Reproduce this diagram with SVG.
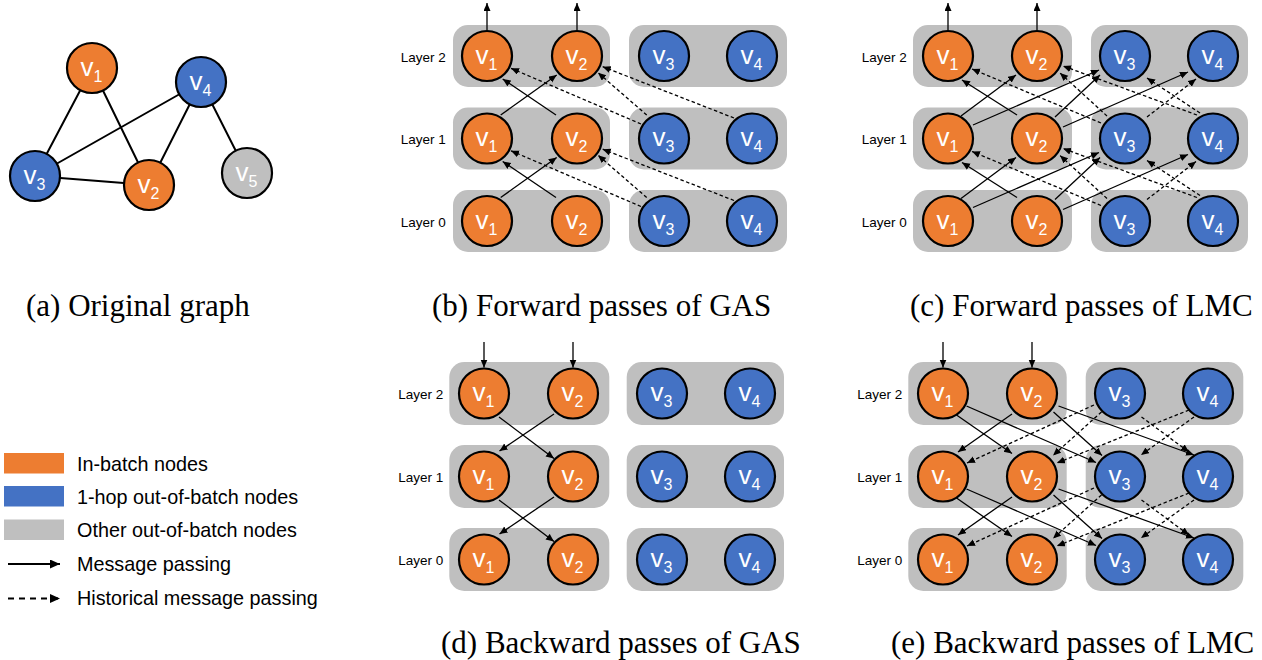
<svg xmlns="http://www.w3.org/2000/svg" width="1262" height="660" viewBox="0 0 1262 660">
<style>
.o{fill:#ED7D31;stroke:#000;stroke-width:2.2}
.b{fill:#4472C4;stroke:#000;stroke-width:2.2}
.g{fill:#BFBFBF;stroke:#000;stroke-width:2.2}
.box{fill:#BFBFBF}
.nl{font-family:"Liberation Sans",Arial,sans-serif;font-size:26px;fill:#fff}
.sb{font-size:16px}
.lay{font-family:"Liberation Sans",Arial,sans-serif;font-size:13.5px;fill:#000}
.cap{font-family:"Liberation Serif","Times New Roman",serif;font-size:31px;fill:#000}
.leg{font-family:"Liberation Sans",Arial,sans-serif;font-size:19.8px;fill:#000}
.e{stroke:#000;stroke-width:1.3;fill:none;marker-end:url(#ah)}
.d{stroke-dasharray:3.5 2.5}
.ge{stroke:#000;stroke-width:2;fill:none}
</style>
<defs>
<marker id="ah" markerUnits="userSpaceOnUse" markerWidth="9" markerHeight="8" refX="8" refY="3.5" orient="auto"><path d="M0,0 L8,3.5 L0,7 z" fill="#000"/></marker>
<marker id="ahl" markerUnits="userSpaceOnUse" markerWidth="11" markerHeight="10" refX="10" refY="4.5" orient="auto"><path d="M0,0 L10,4.5 L0,9 z" fill="#000"/></marker>
</defs>
<rect width="1262" height="660" fill="#fff"/>

<!-- ===== Panel (a) ===== -->
<g id="a-edges">
<path class="ge" d="M92,68 L35,176 M92,68 L149,185 M201,82 L35,176 M35,176 L149,185 M201,82 L149,185 M201,82 L247,173"/>
</g>
<g id="a-v1"><circle class="o" cx="92" cy="68" r="25"/><text class="nl" x="80.5" y="75.5">v<tspan class="sb" dy="6">1</tspan></text></g>
<g id="a-v4"><circle class="b" cx="201" cy="82" r="25"/><text class="nl" x="189.5" y="89.5">v<tspan class="sb" dy="6">4</tspan></text></g>
<g id="a-v3"><circle class="b" cx="35" cy="176" r="25"/><text class="nl" x="23.5" y="183.5">v<tspan class="sb" dy="6">3</tspan></text></g>
<g id="a-v2"><circle class="o" cx="149" cy="185" r="25"/><text class="nl" x="137.5" y="192.5">v<tspan class="sb" dy="6">2</tspan></text></g>
<g id="a-v5"><circle class="g" cx="247" cy="173" r="25"/><text class="nl" x="235.5" y="180.5">v<tspan class="sb" dy="6">5</tspan></text></g>
<text class="cap" x="26" y="316">(a) Original graph</text>

<!-- ===== Legend ===== -->
<g id="legend">
<rect x="4" y="453" width="60" height="20.5" fill="#ED7D31"/>
<rect x="4" y="486" width="60" height="20.5" fill="#4472C4"/>
<rect x="4" y="519.5" width="60" height="20.5" fill="#BFBFBF"/>
<path d="M8,564 L60,564" stroke="#000" stroke-width="2" marker-end="url(#ahl)"/>
<path d="M8,598.5 L60,598.5" stroke="#000" stroke-width="2" stroke-dasharray="6 5" marker-end="url(#ahl)"/>
<text class="leg" x="77" y="470.5">In-batch nodes</text>
<text class="leg" x="77" y="504">1-hop out-of-batch nodes</text>
<text class="leg" x="77" y="537">Other out-of-batch nodes</text>
<text class="leg" x="77" y="570.5">Message passing</text>
<text class="leg" x="77" y="605">Historical message passing</text>
</g>

<!-- ===== Panel (b) ===== -->
<g id="b-boxes">
<rect class="box" x="453" y="25" width="157" height="62" rx="15"/>
<rect class="box" x="629" y="25" width="158" height="62" rx="15"/>
<rect class="box" x="453" y="107.5" width="157" height="62" rx="15"/>
<rect class="box" x="629" y="107.5" width="158" height="62" rx="15"/>
<rect class="box" x="453" y="190" width="157" height="62" rx="15"/>
<rect class="box" x="629" y="190" width="158" height="62" rx="15"/>
</g>
<text class="lay" x="400.7" y="61.5">Layer 2</text>
<text class="lay" x="400.7" y="144">Layer 1</text>
<text class="lay" x="400.7" y="226.5">Layer 0</text>
<g id="b-L2-v1"><circle class="o" cx="487" cy="56" r="25"/><text class="nl" x="475.5" y="63.5">v<tspan class="sb" dy="6">1</tspan></text></g>
<g id="b-L2-v2"><circle class="o" cx="577" cy="56" r="25"/><text class="nl" x="565.5" y="63.5">v<tspan class="sb" dy="6">2</tspan></text></g>
<g id="b-L2-v3"><circle class="b" cx="664" cy="56" r="25"/><text class="nl" x="652.5" y="63.5">v<tspan class="sb" dy="6">3</tspan></text></g>
<g id="b-L2-v4"><circle class="b" cx="752" cy="56" r="25"/><text class="nl" x="740.5" y="63.5">v<tspan class="sb" dy="6">4</tspan></text></g>
<g id="b-L1-v1"><circle class="o" cx="487" cy="138.5" r="25"/><text class="nl" x="475.5" y="146">v<tspan class="sb" dy="6">1</tspan></text></g>
<g id="b-L1-v2"><circle class="o" cx="577" cy="138.5" r="25"/><text class="nl" x="565.5" y="146">v<tspan class="sb" dy="6">2</tspan></text></g>
<g id="b-L1-v3"><circle class="b" cx="664" cy="138.5" r="25"/><text class="nl" x="652.5" y="146">v<tspan class="sb" dy="6">3</tspan></text></g>
<g id="b-L1-v4"><circle class="b" cx="752" cy="138.5" r="25"/><text class="nl" x="740.5" y="146">v<tspan class="sb" dy="6">4</tspan></text></g>
<g id="b-L0-v1"><circle class="o" cx="487" cy="221" r="25"/><text class="nl" x="475.5" y="228.5">v<tspan class="sb" dy="6">1</tspan></text></g>
<g id="b-L0-v2"><circle class="o" cx="577" cy="221" r="25"/><text class="nl" x="565.5" y="228.5">v<tspan class="sb" dy="6">2</tspan></text></g>
<g id="b-L0-v3"><circle class="b" cx="664" cy="221" r="25"/><text class="nl" x="652.5" y="228.5">v<tspan class="sb" dy="6">3</tspan></text></g>
<g id="b-L0-v4"><circle class="b" cx="752" cy="221" r="25"/><text class="nl" x="740.5" y="228.5">v<tspan class="sb" dy="6">4</tspan></text></g>
<text class="cap" x="432" y="316">(b) Forward passes of GAS</text>

<!-- ===== Panel (c) ===== -->
<g id="c-boxes">
<rect class="box" x="913" y="25" width="159" height="62" rx="15"/>
<rect class="box" x="1091" y="25" width="157" height="62" rx="15"/>
<rect class="box" x="913" y="107.5" width="159" height="62" rx="15"/>
<rect class="box" x="1091" y="107.5" width="157" height="62" rx="15"/>
<rect class="box" x="913" y="190" width="159" height="62" rx="15"/>
<rect class="box" x="1091" y="190" width="157" height="62" rx="15"/>
</g>
<text class="lay" x="861.7" y="61.5">Layer 2</text>
<text class="lay" x="861.7" y="144">Layer 1</text>
<text class="lay" x="861.7" y="226.5">Layer 0</text>
<g id="c-L2-v1"><circle class="o" cx="948" cy="56" r="25"/><text class="nl" x="936.5" y="63.5">v<tspan class="sb" dy="6">1</tspan></text></g>
<g id="c-L2-v2"><circle class="o" cx="1037" cy="56" r="25"/><text class="nl" x="1025.5" y="63.5">v<tspan class="sb" dy="6">2</tspan></text></g>
<g id="c-L2-v3"><circle class="b" cx="1125" cy="56" r="25"/><text class="nl" x="1113.5" y="63.5">v<tspan class="sb" dy="6">3</tspan></text></g>
<g id="c-L2-v4"><circle class="b" cx="1213" cy="56" r="25"/><text class="nl" x="1201.5" y="63.5">v<tspan class="sb" dy="6">4</tspan></text></g>
<g id="c-L1-v1"><circle class="o" cx="948" cy="138.5" r="25"/><text class="nl" x="936.5" y="146">v<tspan class="sb" dy="6">1</tspan></text></g>
<g id="c-L1-v2"><circle class="o" cx="1037" cy="138.5" r="25"/><text class="nl" x="1025.5" y="146">v<tspan class="sb" dy="6">2</tspan></text></g>
<g id="c-L1-v3"><circle class="b" cx="1125" cy="138.5" r="25"/><text class="nl" x="1113.5" y="146">v<tspan class="sb" dy="6">3</tspan></text></g>
<g id="c-L1-v4"><circle class="b" cx="1213" cy="138.5" r="25"/><text class="nl" x="1201.5" y="146">v<tspan class="sb" dy="6">4</tspan></text></g>
<g id="c-L0-v1"><circle class="o" cx="948" cy="221" r="25"/><text class="nl" x="936.5" y="228.5">v<tspan class="sb" dy="6">1</tspan></text></g>
<g id="c-L0-v2"><circle class="o" cx="1037" cy="221" r="25"/><text class="nl" x="1025.5" y="228.5">v<tspan class="sb" dy="6">2</tspan></text></g>
<g id="c-L0-v3"><circle class="b" cx="1125" cy="221" r="25"/><text class="nl" x="1113.5" y="228.5">v<tspan class="sb" dy="6">3</tspan></text></g>
<g id="c-L0-v4"><circle class="b" cx="1213" cy="221" r="25"/><text class="nl" x="1201.5" y="228.5">v<tspan class="sb" dy="6">4</tspan></text></g>
<text class="cap" x="910" y="316">(c) Forward passes of LMC</text>

<!-- ===== Panel (d) ===== -->
<g id="d-boxes">
<rect class="box" x="449.3" y="362" width="160" height="63" rx="15"/>
<rect class="box" x="626.7" y="362" width="157.3" height="63" rx="15"/>
<rect class="box" x="449.3" y="445" width="160" height="63" rx="15"/>
<rect class="box" x="626.7" y="445" width="157.3" height="63" rx="15"/>
<rect class="box" x="449.3" y="528" width="160" height="63" rx="15"/>
<rect class="box" x="626.7" y="528" width="157.3" height="63" rx="15"/>
</g>
<text class="lay" x="398.3" y="399">Layer 2</text>
<text class="lay" x="398.3" y="482">Layer 1</text>
<text class="lay" x="398.3" y="565">Layer 0</text>
<g id="d-L2-v1"><circle class="o" cx="484" cy="393.5" r="25"/><text class="nl" x="472.5" y="401">v<tspan class="sb" dy="6">1</tspan></text></g>
<g id="d-L2-v2"><circle class="o" cx="573" cy="393.5" r="25"/><text class="nl" x="561.5" y="401">v<tspan class="sb" dy="6">2</tspan></text></g>
<g id="d-L2-v3"><circle class="b" cx="662" cy="393.5" r="25"/><text class="nl" x="650.5" y="401">v<tspan class="sb" dy="6">3</tspan></text></g>
<g id="d-L2-v4"><circle class="b" cx="750" cy="393.5" r="25"/><text class="nl" x="738.5" y="401">v<tspan class="sb" dy="6">4</tspan></text></g>
<g id="d-L1-v1"><circle class="o" cx="484" cy="476.5" r="25"/><text class="nl" x="472.5" y="484">v<tspan class="sb" dy="6">1</tspan></text></g>
<g id="d-L1-v2"><circle class="o" cx="573" cy="476.5" r="25"/><text class="nl" x="561.5" y="484">v<tspan class="sb" dy="6">2</tspan></text></g>
<g id="d-L1-v3"><circle class="b" cx="662" cy="476.5" r="25"/><text class="nl" x="650.5" y="484">v<tspan class="sb" dy="6">3</tspan></text></g>
<g id="d-L1-v4"><circle class="b" cx="750" cy="476.5" r="25"/><text class="nl" x="738.5" y="484">v<tspan class="sb" dy="6">4</tspan></text></g>
<g id="d-L0-v1"><circle class="o" cx="484" cy="559.5" r="25"/><text class="nl" x="472.5" y="567">v<tspan class="sb" dy="6">1</tspan></text></g>
<g id="d-L0-v2"><circle class="o" cx="573" cy="559.5" r="25"/><text class="nl" x="561.5" y="567">v<tspan class="sb" dy="6">2</tspan></text></g>
<g id="d-L0-v3"><circle class="b" cx="662" cy="559.5" r="25"/><text class="nl" x="650.5" y="567">v<tspan class="sb" dy="6">3</tspan></text></g>
<g id="d-L0-v4"><circle class="b" cx="750" cy="559.5" r="25"/><text class="nl" x="738.5" y="567">v<tspan class="sb" dy="6">4</tspan></text></g>
<text class="cap" x="441" y="653">(d) Backward passes of GAS</text>

<!-- ===== Panel (e) ===== -->
<g id="e-boxes">
<rect class="box" x="908.3" y="362" width="158.4" height="63" rx="15"/>
<rect class="box" x="1085.7" y="362" width="157.6" height="63" rx="15"/>
<rect class="box" x="908.3" y="445" width="158.4" height="63" rx="15"/>
<rect class="box" x="1085.7" y="445" width="157.6" height="63" rx="15"/>
<rect class="box" x="908.3" y="528" width="158.4" height="63" rx="15"/>
<rect class="box" x="1085.7" y="528" width="157.6" height="63" rx="15"/>
</g>
<text class="lay" x="857.3" y="399">Layer 2</text>
<text class="lay" x="857.3" y="482">Layer 1</text>
<text class="lay" x="857.3" y="565">Layer 0</text>
<g id="e-L2-v1"><circle class="o" cx="943" cy="393.5" r="25"/><text class="nl" x="931.5" y="401">v<tspan class="sb" dy="6">1</tspan></text></g>
<g id="e-L2-v2"><circle class="o" cx="1032" cy="393.5" r="25"/><text class="nl" x="1020.5" y="401">v<tspan class="sb" dy="6">2</tspan></text></g>
<g id="e-L2-v3"><circle class="b" cx="1120" cy="393.5" r="25"/><text class="nl" x="1108.5" y="401">v<tspan class="sb" dy="6">3</tspan></text></g>
<g id="e-L2-v4"><circle class="b" cx="1208" cy="393.5" r="25"/><text class="nl" x="1196.5" y="401">v<tspan class="sb" dy="6">4</tspan></text></g>
<g id="e-L1-v1"><circle class="o" cx="943" cy="476.5" r="25"/><text class="nl" x="931.5" y="484">v<tspan class="sb" dy="6">1</tspan></text></g>
<g id="e-L1-v2"><circle class="o" cx="1032" cy="476.5" r="25"/><text class="nl" x="1020.5" y="484">v<tspan class="sb" dy="6">2</tspan></text></g>
<g id="e-L1-v3"><circle class="b" cx="1120" cy="476.5" r="25"/><text class="nl" x="1108.5" y="484">v<tspan class="sb" dy="6">3</tspan></text></g>
<g id="e-L1-v4"><circle class="b" cx="1208" cy="476.5" r="25"/><text class="nl" x="1196.5" y="484">v<tspan class="sb" dy="6">4</tspan></text></g>
<g id="e-L0-v1"><circle class="o" cx="943" cy="559.5" r="25"/><text class="nl" x="931.5" y="567">v<tspan class="sb" dy="6">1</tspan></text></g>
<g id="e-L0-v2"><circle class="o" cx="1032" cy="559.5" r="25"/><text class="nl" x="1020.5" y="567">v<tspan class="sb" dy="6">2</tspan></text></g>
<g id="e-L0-v3"><circle class="b" cx="1120" cy="559.5" r="25"/><text class="nl" x="1108.5" y="567">v<tspan class="sb" dy="6">3</tspan></text></g>
<g id="e-L0-v4"><circle class="b" cx="1208" cy="559.5" r="25"/><text class="nl" x="1196.5" y="567">v<tspan class="sb" dy="6">4</tspan></text></g>
<text class="cap" x="891" y="653">(e) Backward passes of LMC</text>

<!-- ===== Connectors ===== -->
<g id="connectors">
<!-- (b) -->
<path class="e" d="M487,30 L487,3"/>
<path class="e" d="M577,30 L577,3"/>
<path class="e" d="M500.7,115 L556.7,75"/>
<path class="e" d="M556,115 L502.7,79"/>
<path class="e d" d="M641,124 L511,68.3"/>
<path class="e d" d="M646.7,115 L598,72.7"/>
<path class="e d" d="M734,118 L602.7,66.7"/>
<path class="e" d="M500.7,197.5 L556.7,157.5"/>
<path class="e" d="M556,197.5 L502.7,161.5"/>
<path class="e d" d="M641,206.5 L511,150.8"/>
<path class="e d" d="M646.7,197.5 L598,155.2"/>
<path class="e d" d="M734,200.5 L602.7,149.2"/>
<!-- (c) -->
<path class="e" d="M948,30 L948,3"/>
<path class="e" d="M1037,30 L1037,3"/>
<path class="e" d="M961,116 L1016,75"/>
<path class="e" d="M973,125 L1099,70"/>
<path class="e" d="M1017,115 L962,80"/>
<path class="e" d="M1055,117 L1100,75"/>
<path class="e" d="M1063,127 L1188,72"/>
<path class="e d" d="M1101,123 L972,69"/>
<path class="e d" d="M1107,116 L1060,73"/>
<path class="e d" d="M1147,117 L1196,79"/>
<path class="e d" d="M1197,115 L1063,66"/>
<path class="e d" d="M1200,113 L1147,78"/>
<path class="e" d="M961,198.5 L1016,157.5"/>
<path class="e" d="M973,207.5 L1099,152.5"/>
<path class="e" d="M1017,197.5 L962,162.5"/>
<path class="e" d="M1055,199.5 L1100,157.5"/>
<path class="e" d="M1063,209.5 L1188,154.5"/>
<path class="e d" d="M1101,205.5 L972,151.5"/>
<path class="e d" d="M1107,198.5 L1060,155.5"/>
<path class="e d" d="M1147,199.5 L1196,161.5"/>
<path class="e d" d="M1197,197.5 L1063,148.5"/>
<path class="e d" d="M1200,195.5 L1147,160.5"/>
<!-- (d) -->
<path class="e" d="M484,342 L484,367.5"/>
<path class="e" d="M573,342 L573,367.5"/>
<path class="e" d="M499,417 L554,458.5"/>
<path class="e" d="M554,414 L499.5,451"/>
<path class="e" d="M499,500 L554,541.5"/>
<path class="e" d="M554,497 L499.5,534"/>
<!-- (e) -->
<path class="e" d="M943,342 L943,367.5"/>
<path class="e" d="M1032,342 L1032,367.5"/>
<path class="e" d="M956.5,415 L1012,453.5"/>
<path class="e" d="M966.5,406 L1096,462.5"/>
<path class="e" d="M1012,414 L958,452"/>
<path class="e" d="M1053.5,412 L1102,455.5"/>
<path class="e" d="M1058.5,406 L1194,455"/>
<path class="e d" d="M1094,405 L967,463"/>
<path class="e d" d="M1101.5,412 L1053,455.5"/>
<path class="e d" d="M1141.5,417 L1189,452"/>
<path class="e d" d="M1189,410 L1057,463"/>
<path class="e d" d="M1194,417 L1141,455"/>
<path class="e" d="M956.5,498 L1012,536.5"/>
<path class="e" d="M966.5,489 L1096,545.5"/>
<path class="e" d="M1012,497 L958,535"/>
<path class="e" d="M1053.5,495 L1102,538.5"/>
<path class="e" d="M1058.5,489 L1194,538"/>
<path class="e d" d="M1094,488 L967,546"/>
<path class="e d" d="M1101.5,495 L1053,538.5"/>
<path class="e d" d="M1141.5,500 L1189,535"/>
<path class="e d" d="M1189,493 L1057,546"/>
<path class="e d" d="M1194,500 L1141,538"/>
</g>
</svg>
